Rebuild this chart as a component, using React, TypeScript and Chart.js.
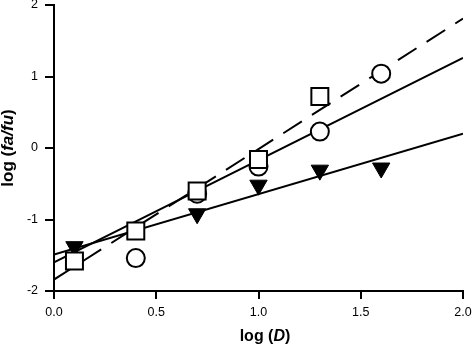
import React, { useEffect, useRef } from "react";
import { Chart, registerables } from "chart.js";

Chart.register(...registerables);

// Measured points (log D, log fa/fu)
const circleX = [0.4, 0.7, 1.0, 1.3, 1.6];
const circleY = [-1.54, -0.64, -0.26, 0.23, 1.04];
const squareX = [0.1, 0.4, 0.7, 1.0, 1.3];
const squareY = [-1.58, -1.16, -0.6, -0.16, 0.72];
const triX = [0.1, 0.4, 0.7, 1.0, 1.3, 1.6];
const triY = [-1.38, -1.12, -0.92, -0.52, -0.31, -0.28];

// Fit lines
const fitX = [0, 2];
const circleFit = [-1.6, 1.26];
const squareFit = [-1.84, 1.81];
const triFit = [-1.49, 0.2];

const xTicks = [0, 0.5, 1.0, 1.5, 2.0];
const xTickLabels = ["0.0", "0.5", "1.0", "1.5", "2.0"];
const yTicks = [-2, -1, 0, 1, 2];
const yTickLabels = ["-2", "-1", "0", "1", "2"];

const xy = (xs: number[], ys: number[]) => xs.map((x, i) => ({ x, y: ys[i] }));

const FONT = "'Liberation Sans', Arial, sans-serif";

function drawMixed(ctx: CanvasRenderingContext2D, parts: { t: string; i?: boolean }[], cx: number, cy: number, rot: number, size: number) {
  ctx.save();
  ctx.translate(cx, cy);
  ctx.rotate(rot);
  ctx.fillStyle = "#000";
  ctx.textBaseline = "middle";
  ctx.textAlign = "left";
  const fontOf = (p: { i?: boolean }) => `${p.i ? "italic " : ""}bold ${size}px ${FONT}`;
  let total = 0;
  for (const p of parts) {
    ctx.font = fontOf(p);
    total += ctx.measureText(p.t).width;
  }
  let x = -total / 2;
  for (const p of parts) {
    ctx.font = fontOf(p);
    ctx.fillText(p.t, x, 0);
    x += ctx.measureText(p.t).width;
  }
  ctx.restore();
}

const labelPlugin = {
  id: "labelsAndTitles",
  afterDraw(chart: any) {
    const ctx = chart.ctx as CanvasRenderingContext2D;
    const xs = chart.scales.x;
    const ys = chart.scales.y;
    ctx.save();
    ctx.fillStyle = "#000";
    ctx.font = `12.5px ${FONT}`;
    ctx.textAlign = "center";
    ctx.textBaseline = "middle";
    xTicks.forEach((v, i) => ctx.fillText(xTickLabels[i], xs.getPixelForValue(v), xs.top + 22));
    ctx.textAlign = "right";
    yTicks.forEach((v, i) => ctx.fillText(yTickLabels[i], ys.right - 16, ys.getPixelForValue(v)));
    ctx.restore();
    drawMixed(ctx, [{ t: "log (" }, { t: "D", i: true }, { t: ")" }], 265, 337, 0, 16);
    drawMixed(ctx, [{ t: "log (" }, { t: "fa/fu", i: true }, { t: ")" }], 8, (ys.top + ys.bottom) / 2, -Math.PI / 2, 17);
  },
};

export default function App() {
  const ref = useRef<HTMLCanvasElement>(null);
  useEffect(() => {
    document.body.style.margin = "0";
    const ctx = ref.current!;
    const lineDs = (data: number[], dash: number[]) => ({
      type: "line" as const,
      data: xy(fitX, data),
      borderColor: "#000",
      borderWidth: 2,
      borderDash: dash,
      pointRadius: 0,
      fill: false,
      order: 2,
    });
    const chart = new Chart(ctx, {
      type: "scatter",
      data: {
        datasets: [
          lineDs(circleFit, []),
          lineDs(squareFit, [22, 12]),
          lineDs(triFit, []),
          {
            data: xy(triX, triY),
            pointStyle: "triangle",
            rotation: 180,
            pointRadius: 10,
            backgroundColor: "#000",
            borderColor: "#000",
            borderWidth: 1,
            order: 1,
          },
          {
            data: xy(circleX, circleY),
            pointStyle: "circle",
            pointRadius: 9,
            backgroundColor: "#fff",
            borderColor: "#000",
            borderWidth: 2,
            order: 0,
          },
          {
            data: xy(squareX, squareY),
            pointStyle: "rect",
            pointRadius: 12,
            backgroundColor: "#fff",
            borderColor: "#000",
            borderWidth: 2,
            order: -1,
          },
        ] as any,
      },
      options: {
        animation: false,
        responsive: false,
        maintainAspectRatio: false,
        layout: { autoPadding: false, padding: { top: 5, right: 11, left: 0, bottom: 0 } },
        plugins: { legend: { display: false }, tooltip: { enabled: false } },
        scales: {
          x: {
            type: "linear",
            min: 0,
            max: 2,
            afterBuildTicks: (s: any) => {
              s.ticks = xTicks.map((v) => ({ value: v }));
            },
            afterFit: (s: any) => {
              s.height = 56;
            },
            ticks: { display: false },
            grid: { drawOnChartArea: false, drawTicks: true, tickLength: 8, color: "#000", lineWidth: 2 },
            border: { display: true, color: "#000", width: 2 },
          },
          y: {
            type: "linear",
            min: -2,
            max: 2,
            afterBuildTicks: (s: any) => {
              s.ticks = yTicks.map((v) => ({ value: v }));
            },
            afterFit: (s: any) => {
              s.width = 54;
            },
            ticks: { display: false },
            grid: { drawOnChartArea: false, drawTicks: true, tickLength: 9, color: "#000", lineWidth: 2 },
            border: { display: true, color: "#000", width: 2 },
          },
        },
      },
      plugins: [labelPlugin],
    });
    return () => chart.destroy();
  }, []);
  return (
    <div style={{ position: "absolute", left: 0, top: 0, width: 474, height: 347 }}>
      <canvas ref={ref} width={474} height={347} style={{ width: 474, height: 347 }} />
    </div>
  );
}
